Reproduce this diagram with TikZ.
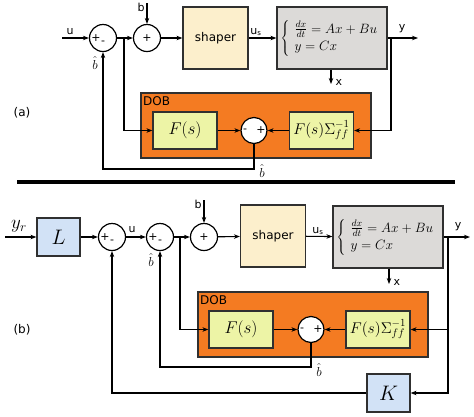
\RequirePackage{fix-cm}
\documentclass[tikz,border=0pt]{standalone}
\usepackage[no-math]{fontspec}
\setmainfont{DejaVu Sans}
\usetikzlibrary{arrows.meta,calc}
\definecolor{dobor}{HTML}{F47B22}
\definecolor{fsfill}{HTML}{EDF4A6}
\definecolor{shfill}{HTML}{FCEFCC}
\definecolor{plfill}{HTML}{DCDAD8}
\definecolor{lkfill}{HTML}{D2E2F6}
\definecolor{bordc}{HTML}{303030}
\begin{document}
\begin{tikzpicture}[x=1pt,y=-1pt,
  arr/.style={-{Stealth[length=6pt,width=4.5pt]}, line width=1.1pt},
  sumc/.style={circle, draw=black, fill=white, line width=1.2pt, minimum size=27pt, inner sep=0pt},
  boxw/.style={draw=bordc, line width=1.2pt, inner sep=0pt},
  shaperbox/.style={boxw, fill=shfill, minimum width=65pt, minimum height=62pt, font=\fontsize{12}{14}\selectfont},
  plantbox/.style={boxw, fill=plfill, minimum width=110pt, minimum height=62pt, font=\fontsize{13.5}{16}\selectfont},
  fbox/.style={boxw, fill=fsfill, minimum width=64pt, minimum height=37pt},
  dobbox/.style={boxw, fill=dobor, minimum width=230pt, minimum height=65pt},
  lkbox/.style={boxw, fill=lkfill, minimum width=43pt, minimum height=38pt, font=\fontsize{21}{24}\selectfont},
  lab/.style={inner sep=0pt, font=\fontsize{11}{13}\selectfont},
  sgn/.style={inner sep=0pt, font=\fontsize{11}{13}\selectfont},
  hatb/.style={inner sep=0pt, font=\fontsize{13}{15}\selectfont}
]
\useasboundingbox (0,0) rectangle (474,416);

% ===================== (a) =====================
\node[lab, font=\fontsize{12}{14}\selectfont] (alab) at (22,113) {(a)};
\node[dobbox] (doba) at (256,125.5) {};
\node[lab, anchor=north west, font=\fontsize{12}{14}\selectfont] (dobla) at (143,96) {DOB};

\node[sumc] (s1a) at (103,38) {};
\node[sgn] (s1ap) at ($(s1a)+(-7,0)$) {+};
\node[sgn] (s1am) at ($(s1a)+(0,5)$) {-};
\node[sumc] (s2a) at (147,38) {};
\node[sgn] (s2ap) at (s2a) {+};
\node[shaperbox] (sha) at (215.5,38) {shaper};
\node[plantbox] (pla) at (332,38) {$\left\{\begin{array}{l}\frac{dx}{dt}=Ax+Bu\\[1pt] y=Cx\end{array}\right.$};
\node[fbox, font=\fontsize{17}{20}\selectfont] (fa) at (185,130.5) {$F(s)$};
\node[fbox, font=\fontsize{15.5}{18}\selectfont] (fsa) at (321.5,130.5) {$F(s)\Sigma_{ff}^{-1}$};
\node[sumc, minimum size=26pt] (s3a) at (254,130.5) {};
\node[sgn] (s3am) at ($(s3a)+(-9,0)$) {-};
\node[sgn] (s3ap) at ($(s3a)+(7,0)$) {+};

\coordinate (ua) at (62,38);
\coordinate (ba) at (147,3);
\coordinate (bra) at (124,38);
\coordinate (ya) at (418,38);
\coordinate (tapa) at (391,38);
\coordinate (xa) at (331,84);
\coordinate (fba) at (103,169);

\node[lab] (ula) at (70,31) {u};
\node[lab] (bla) at (141,7) {b};
\node[lab] (usla) at (256,32) {u\textsubscript{\fontsize{7}{8}\selectfont s}};
\node[lab] (yla) at (402,29) {y};
\node[lab] (xla) at (339,82) {x};
\node[hatb] (bh1a) at (95,63) {$\hat{b}$};
\node[hatb] (bh2a) at (262,171) {$\hat{b}$};

\draw[arr] (ua) -- (s1a);
\draw[arr] (s1a) -- (s2a);
\draw[arr] (ba) -- (s2a);
\draw[arr] (s2a) -- (sha);
\draw[arr] (sha) -- (pla);
\draw[arr] (pla.east) -- (ya);
\draw[arr] (tapa) |- (fsa);
\draw[arr] (pla.south -| xa) -- (xa);
\draw[arr] (bra) |- (fa);
\draw[arr] (fa) -- (s3a);
\draw[arr] (fsa) -- (s3a);
\draw[arr] (s3a) |- (fba) -- (s1a);

% separator
\draw[line width=3.5pt] (17,182) -- (455,182);

% ===================== (b) =====================
\node[lab, font=\fontsize{12}{14}\selectfont] (blab) at (22,330) {(b)};
\node[dobbox] (dobb) at (313,324.5) {};
\node[lab, anchor=north west, font=\fontsize{12}{14}\selectfont] (doblb) at (200,295) {DOB};

\node[lkbox] (lb) at (58.5,237) {$L$};
\node[sumc] (s1b) at (112,237) {};
\node[sgn] (s1bp) at ($(s1b)+(-7,0)$) {+};
\node[sgn] (s1bm) at ($(s1b)+(0,5)$) {-};
\node[sumc] (s2b) at (160,237) {};
\node[sgn] (s2bp) at ($(s2b)+(-7,0)$) {+};
\node[sgn] (s2bm) at ($(s2b)+(0,5)$) {-};
\node[sumc] (s3b) at (204,237) {};
\node[sgn] (s3bp) at (s3b) {+};
\node[shaperbox] (shb) at (273,236) {shaper};
\node[plantbox] (plb) at (388,237) {$\left\{\begin{array}{l}\frac{dx}{dt}=Ax+Bu\\[1pt] y=Cx\end{array}\right.$};
\node[fbox, font=\fontsize{17}{20}\selectfont] (fb) at (241,329.5) {$F(s)$};
\node[fbox, font=\fontsize{15.5}{18}\selectfont] (fsb) at (378,329.5) {$F(s)\Sigma_{ff}^{-1}$};
\node[sumc, minimum size=26pt] (s4b) at (311,329.5) {};
\node[sgn] (s4bm) at ($(s4b)+(-9,0)$) {-};
\node[sgn] (s4bp) at ($(s4b)+(7,0)$) {+};
\node[lkbox] (kb) at (388.5,393) {$K$};

\coordinate (yrb) at (5,237);
\coordinate (bb) at (204,200);
\coordinate (brb) at (180,237);
\coordinate (yb) at (470,237);
\coordinate (tapb) at (448,237);
\coordinate (xb) at (389,284);
\coordinate (fbb) at (160,367);
\coordinate (fbk) at (112,393);

\node[inner sep=0pt, font=\fontsize{19}{22}\selectfont] (yrl) at (19,226) {$y_r$};
\node[lab] (ulb) at (132,229) {u};
\node[lab] (blb) at (198,204) {b};
\node[lab] (uslb) at (318,231) {u\textsubscript{\fontsize{7}{8}\selectfont s}};
\node[lab] (ylb) at (458,227) {y};
\node[lab] (xlb) at (397,282) {x};
\node[hatb] (bh1b) at (151,260) {$\hat{b}$};
\node[hatb] (bh2b) at (319,370) {$\hat{b}$};

\draw[arr] (yrb) -- (lb);
\draw[arr] (lb) -- (s1b);
\draw[arr] (s1b) -- (s2b);
\draw[arr] (s2b) -- (s3b);
\draw[arr] (bb) -- (s3b);
\draw[arr] (s3b) -- (shb);
\draw[arr] (shb) -- (plb);
\draw[arr] (plb.east) -- (yb);
\draw[arr] (tapb) |- (fsb);
\draw[arr] (tapb) |- (kb);
\draw[arr] (plb.south -| xb) -- (xb);
\draw[arr] (brb) |- (fb);
\draw[arr] (fb) -- (s4b);
\draw[arr] (fsb) -- (s4b);
\draw[arr] (s4b) |- (fbb) -- (s2b);
\draw[arr] (kb) -- (fbk) -- (s1b);
\end{tikzpicture}
\end{document}
